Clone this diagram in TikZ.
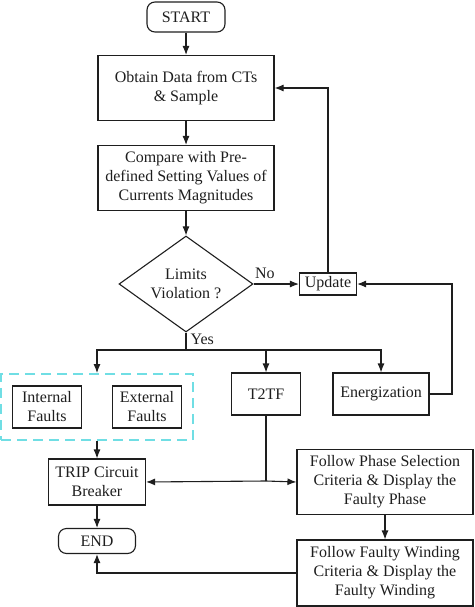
\documentclass[tikz,border=0pt]{standalone}
\usepackage{fontspec}
\setmainfont{Liberation Serif}
\usetikzlibrary{arrows.meta,shapes.geometric}
\definecolor{faultcyan}{RGB}{112,222,228}
\definecolor{inkgray}{RGB}{30,30,30}

\tikzset{
	box/.style={draw=inkgray, line width=1.1pt, align=center, inner sep=0pt, text=inkgray},
	term/.style={box, rounded corners=8pt},
	decide/.style={box, diamond, aspect=1.4, minimum width=134pt, minimum height=96pt},
	flow/.style={draw=inkgray, line width=1.1pt, -{Latex[length=9pt,width=7pt]}},
	wire/.style={draw=inkgray, line width=1.1pt},
	lbl/.style={text=inkgray, inner sep=0pt}
}

\begin{document}
\begin{tikzpicture}[x=1pt, y=-1pt, font=\rmfamily\fontsize{16}{19}\selectfont]
		%%%%% START %%%%%
		\useasboundingbox (0, 0) rectangle (474, 607);
		
		\node[term, minimum width=78pt, minimum height=30pt] (start) at (186, 17) {START};
		\node[box, minimum width=176pt, minimum height=65pt] (obtain) at (186, 88) {Obtain Data from CTs\\\& Sample};
		\node[box, minimum width=176pt, minimum height=65pt] (compare) at (186, 178) {Compare with Pre-\\defined Setting Values of\\Currents Magnitudes};
		\node[decide] (limits) at (186, 284) {Limits\\Violation ?};
		\node[box, minimum width=57pt, minimum height=22pt] (update) at (328, 284) {Update};
		
		% fault group
		\node[draw=faultcyan, line width=1.8pt, dash pattern=on 10pt off 6pt, minimum width=192pt, minimum height=66pt, inner sep=0pt] (faults) at (97, 407) {};
		\node[box, minimum width=69pt, minimum height=42pt] (internal) at (47, 407) {Internal\\Faults};
		\node[box, minimum width=69pt, minimum height=42pt] (external) at (147, 407) {External\\Faults};
		
		\node[box, minimum width=69pt, minimum height=42pt] (t2tf) at (266, 394) {T2TF};
		\node[box, minimum width=96pt, minimum height=42pt] (energ) at (381, 394) {Energization};
		
		\node[box, minimum width=97pt, minimum height=46pt] (trip) at (97, 482) {TRIP Circuit\\Breaker};
		\node[term, minimum width=77pt, minimum height=25pt] (end) at (97, 541) {END};
		\node[box, minimum width=176pt, minimum height=65pt] (phase) at (385, 482) {Follow Phase Selection\\Criteria \& Display the\\Faulty Phase};
		\node[box, minimum width=176pt, minimum height=66pt] (winding) at (385, 573) {Follow Faulty Winding\\Criteria \& Display the\\Faulty Winding};
		
		\coordinate (split) at (186, 350);
		\coordinate (join) at (266, 481);
		\coordinate (ecorner) at (452, 394);
		
		\draw[flow] (start) -- (obtain);
		\draw[flow] (obtain) -- (compare);
		\draw[flow] (compare) -- (limits);
		\draw[flow] (limits.east) -- node[lbl, above=5pt, pos=0.25] {No} (update.west);
		\draw[flow] (update.north) |- (obtain.east);
		\draw[flow] (energ.east) -- (ecorner) |- (update.east);
		
		\draw[wire] (limits.south) -- node[lbl, right=4pt, pos=0.4] {Yes} (split);
		\draw[flow] (split) -| (faults.north);
		\draw[flow] (split) -| (t2tf.north);
		\draw[flow] (split) -| (energ.north);
		
		\draw[flow] (faults.south) -- (trip.north);
		\draw[wire] (t2tf.south) -- (join);
		\draw[flow] (join) -- (trip.east);
		\draw[flow] (join) -- (phase.west);
		\draw[flow] (trip) -- (end);
		\draw[flow] (phase) -- (winding);
		\draw[flow] (winding.west) -| (end.south);
		
		%%%%% END %%%%%
	\end{tikzpicture}
\end{document}
